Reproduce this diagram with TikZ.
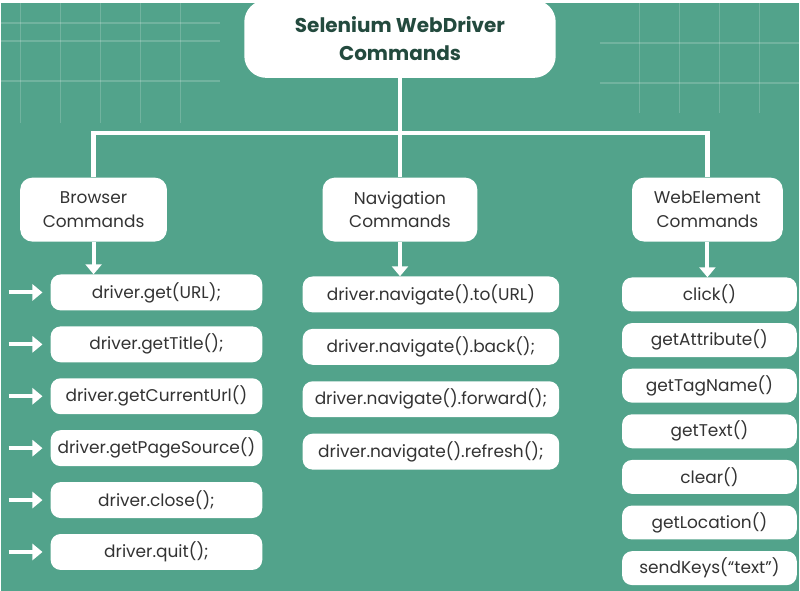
\documentclass[tikz,border=0pt]{standalone}
\usepackage{fontspec}
\setmainfont{Poppins}
\usetikzlibrary{arrows.meta}
\definecolor{bg}{HTML}{52A38B}
\definecolor{tx}{HTML}{333333}
\definecolor{ttl}{HTML}{234A3E}
\begin{document}
\begin{tikzpicture}[x=1pt,y=-1pt,
  item/.style={fill=white,rounded corners=10pt,minimum height=36pt,text=tx,font=\fontsize{17}{20}\selectfont,inner sep=1pt},
  cat/.style={fill=white,rounded corners=12pt,minimum height=64pt,text=tx,align=center,font=\fontsize{17}{24}\selectfont},
  ln/.style={white,line width=4.5pt},
  arr/.style={white,line width=4pt,-{Triangle[length=10pt,width=16pt]}}]
\fill[bg] (0,0) rectangle (800,589);
\begin{scope}[white,opacity=0.18,line width=1.5pt]
\foreach \x in {20,60,100,140,180} \draw (\x,0) -- (\x,120);
\foreach \y in {20,38,78} \draw (0,\y) -- (220,\y);
\foreach \x in {640,680,720,760} \draw (\x,0) -- (\x,110);
\foreach \y in {40,80} \draw (600,\y) -- (800,\y);
\end{scope}
\node[fill=white,rounded corners=22pt,minimum width=312pt,minimum height=78pt,align=center,text=ttl,font=\bfseries\fontsize{20}{28}\selectfont] (t) at (400,36) {Selenium WebDriver\\Commands};
\node[cat,minimum width=147pt] (b) at (93,207) {Browser\\Commands};
\node[cat,minimum width=155pt] (n) at (400,207) {Navigation\\Commands};
\node[cat,minimum width=151pt] (w) at (708,207) {WebElement\\Commands};
\coordinate (j) at (400,130);
\coordinate (jl) at (93,130);
\coordinate (jr) at (708,130);
\draw[ln] (t.south) -- (j);
\draw[ln] (b.north) -- (jl) -- (jr) -- (w.north);
\draw[ln] (j) -- (n.north);
\foreach \t [count=\i] in {driver.get(URL);,driver.getTitle();,driver.getCurrentUrl(),driver.getPageSource(),driver.close();,driver.quit();}{
  \node[item,minimum width=212pt] (b\i) at (156,{290+(\i-1)*52}) {\t};
  \coordinate (a\i) at (8,{290+(\i-1)*52});
  \draw[arr] (a\i) -- ([xshift=-8pt]b\i.west);
}
\foreach \t [count=\i] in {driver.navigate().to(URL),driver.navigate().back();,driver.navigate().forward();,driver.navigate().refresh();}{
  \node[item,minimum width=257pt] (n\i) at (431,{292+(\i-1)*52.5}) {\t};
}
\foreach \t [count=\i] in {click(),getAttribute(),getTagName(),getText(),clear(),getLocation(),sendKeys(“text”)}{
  \node[item,minimum width=175pt,minimum height=34pt] (w\i) at (710,{292+(\i-1)*45.7}) {\t};
}
\draw[arr] (b.south) -- (b.south |- b1.north);
\draw[arr] (n.south) -- (n.south |- n1.north);
\draw[arr] (w.south) -- (w.south |- w1.north);
\end{tikzpicture}
\end{document}
